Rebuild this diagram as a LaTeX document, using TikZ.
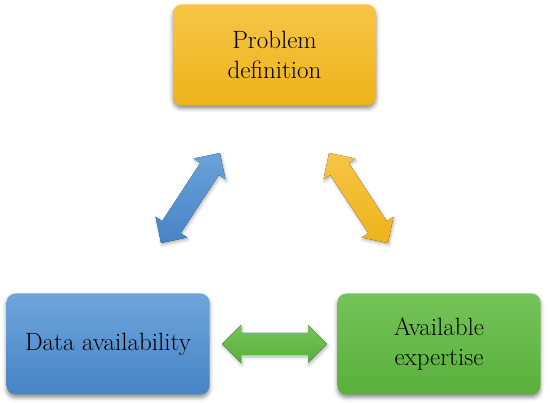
\documentclass[tikz,border=0pt]{standalone}
\usetikzlibrary{calc,shadows.blur}
\definecolor{yelT}{HTML}{F7C547}
\definecolor{yelB}{HTML}{EEB31A}
\definecolor{bluT}{HTML}{6EA5DB}
\definecolor{bluB}{HTML}{4784C6}
\definecolor{grnT}{HTML}{75C35A}
\definecolor{grnB}{HTML}{59B03B}
\tikzset{
  boxstyle/.style={rounded corners=9pt, minimum width=203pt, minimum height=101pt,
    align=center, inner sep=0pt, text=black,
    font=\fontsize{25}{30}\selectfont,
    blur shadow={shadow xshift=0pt, shadow yshift=-3pt, shadow blur radius=4pt, shadow opacity=45}},
  arrowfill/.style={blur shadow={shadow xshift=1pt, shadow yshift=-2pt, shadow blur radius=3pt, shadow opacity=30}}
}
\newcommand\blockarrow[3]{%
  \fill[arrowfill,#3]
    (#1)
    -- ($(#1)!19pt!(#2)!19pt!90:(#2)$)
    -- ($(#1)!19pt!(#2)!11pt!90:(#2)$)
    -- ($(#2)!19pt!(#1)!11pt!-90:(#1)$)
    -- ($(#2)!19pt!(#1)!19pt!-90:(#1)$)
    -- (#2)
    -- ($(#2)!19pt!(#1)!19pt!90:(#1)$)
    -- ($(#2)!19pt!(#1)!11pt!90:(#1)$)
    -- ($(#1)!19pt!(#2)!11pt!-90:(#2)$)
    -- ($(#1)!19pt!(#2)!19pt!-90:(#2)$)
    -- cycle;}
\begin{document}
\begin{tikzpicture}[x=1pt,y=-1pt]
\useasboundingbox (0,0) rectangle (550,403);
\node[boxstyle, top color=yelT, bottom color=yelB] (prob) at (274.5,55) {Problem\\definition};
\node[boxstyle, top color=bluT, bottom color=bluB] (data) at (108,344) {Data availability};
\node[boxstyle, top color=grnT, bottom color=grnB] (exp) at (439,344) {Available\\expertise};
% arrow end points
\coordinate (b1) at (161,243);
\coordinate (b2) at (220,153);
\coordinate (y1) at (329,153);
\coordinate (y2) at (388,243);
\coordinate (g1) at (222,344);
\coordinate (g2) at (327,344);
\blockarrow{b1}{b2}{top color=bluT!90!bluB, bottom color=bluB}
\blockarrow{y1}{y2}{top color=yelT, bottom color=yelB}
\blockarrow{g1}{g2}{top color=grnT, bottom color=grnB}
\end{tikzpicture}
\end{document}
